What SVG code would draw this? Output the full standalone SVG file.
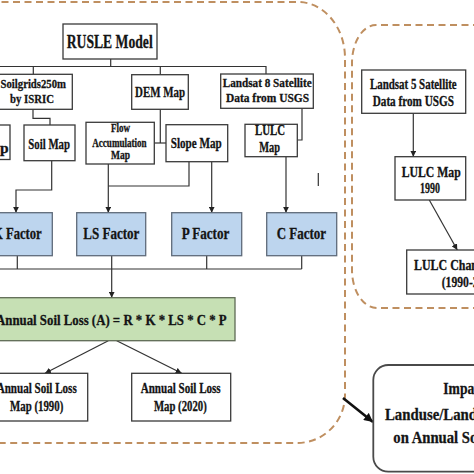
<svg xmlns="http://www.w3.org/2000/svg" width="474" height="474" viewBox="0 0 474 474">
<style>
.bg{fill:#ffffff}
.dash{fill:none;stroke:#bf8f60;stroke-width:2;stroke-dasharray:7 4.5}
.box{fill:#ffffff;stroke:#3a3a3a;stroke-width:1.3}
.fac{fill:#bdd5ee;stroke:#5f6b7a;stroke-width:1.3}
.eq{fill:#c6e0b4;stroke:#5f6b55;stroke-width:1.3}
.imp{fill:#ffffff;stroke:#4a4a4a;stroke-width:1.8}
.c{fill:none;stroke:#333333;stroke-width:1.2}
.ca{fill:none;stroke:#333333;stroke-width:1.2;marker-end:url(#arr)}
.thick{fill:none;stroke:#111111;stroke-width:2.6;marker-end:url(#arrB)}
text{font-family:"Liberation Serif","Times New Roman",serif;font-weight:bold;fill:#141414;stroke:#141414;stroke-width:0.3}
</style>
<defs>
<marker id="arr" viewBox="0 0 10 10" refX="10" refY="5" markerWidth="6" markerHeight="6" markerUnits="userSpaceOnUse" orient="auto">
<path d="M0,0 L10,5 L0,10 z" fill="#222222"/>
</marker>
<marker id="arrB" viewBox="0 0 10 10" refX="10" refY="5" markerWidth="9" markerHeight="9" markerUnits="userSpaceOnUse" orient="auto">
<path d="M0,0 L10,5 L0,10 z" fill="#111111"/>
</marker>
</defs>
<rect class="bg" x="0" y="0" width="474" height="474"/>

<g id="frames">
<path class="dash" d="M-10,2 H298 A47 56 0 0 1 345,58 V395 A48 48 0 0 1 297,443 H-10"/>
<path class="dash" d="M480,25 H376 A24 38 0 0 0 352,63 V270 A25 38 0 0 0 377,308 H480"/>
</g>

<g id="connectors">
<path class="c" d="M110.7,59 V66.5"/>
<path class="c" d="M0,66.5 H266 V74"/>
<path class="c" d="M33.3,66.5 V74.3"/>
<path class="c" d="M160.3,66.5 V74.7"/>
<path class="c" d="M33,109.3 V118.3 H50 V125"/>
<path class="c" d="M160.3,109.3 V143"/>
<path class="c" d="M154.3,143 H166"/>
<path class="c" d="M302,108.3 V140 H297.3"/>
<path class="ca" d="M51.7,160.7 V190 H16 V212.7"/>
<path class="ca" d="M108.3,164 V212.7"/>
<path class="c" d="M189,161.7 V186 H108.3"/>
<path class="ca" d="M211.7,161.7 V212.7"/>
<path class="ca" d="M286,156.7 V212.7"/>
<path class="c" d="M318.3,173 V186"/>
<path class="c" d="M17.3,255.7 V269 M111.7,255.7 V269 M206.7,255.7 V269 M301.7,255.7 V269 M0,269 H301.7"/>
<path class="ca" d="M111.7,269 V297.7"/>
<path class="ca" d="M108.3,340.7 L45,373.3"/>
<path class="ca" d="M116.7,340.7 L181.7,373.3"/>
<path class="ca" d="M413.3,113.3 V156.7"/>
<path class="ca" d="M429.3,200 L457.3,250"/>
<path class="ca" d="M477,315 V365"/>
<path class="thick" d="M343,398 L373,422"/>
</g>

<g id="rusle"><rect class="box" x="63" y="24" width="94" height="35"/>
<text x="66.7" y="48.3" font-size="19" textLength="86" lengthAdjust="spacingAndGlyphs">RUSLE Model</text></g>

<g id="soilgrids"><rect class="box" x="-8" y="74.3" width="80.3" height="35"/>
<text x="0.5" y="87.7" font-size="13.5" textLength="65.5" lengthAdjust="spacingAndGlyphs">Soilgrids250m</text>
<text x="10" y="103.3" font-size="13.5" textLength="44" lengthAdjust="spacingAndGlyphs">by ISRIC</text></g>

<g id="dem"><rect class="box" x="131.7" y="74.7" width="56.6" height="34.6"/>
<text x="135" y="96.7" font-size="15.5" textLength="50" lengthAdjust="spacingAndGlyphs">DEM Map</text></g>

<g id="landsat8"><rect class="box" x="220.7" y="74" width="92.6" height="34.3"/>
<text x="222.7" y="86.7" font-size="13" textLength="89" lengthAdjust="spacingAndGlyphs">Landsat 8 Satellite</text>
<text x="226" y="101.7" font-size="13" textLength="83" lengthAdjust="spacingAndGlyphs">Data from USGS</text></g>

<g id="leftmap"><rect class="box" x="-20" y="125" width="30" height="34.5"/>
<text x="0" y="153" font-size="15.5">p</text></g>

<g id="soilmap"><rect class="box" x="24" y="125" width="51" height="35.7"/>
<text x="28.3" y="149" font-size="15.5" textLength="41.7" lengthAdjust="spacingAndGlyphs">Soil Map</text></g>

<g id="flow"><rect class="box" x="86" y="122.3" width="68.3" height="41.7"/>
<text x="111" y="132.3" font-size="11.5" textLength="19" lengthAdjust="spacingAndGlyphs">Flow</text>
<text x="92.3" y="146.7" font-size="11.5" textLength="54.3" lengthAdjust="spacingAndGlyphs">Accumulation</text>
<text x="111" y="159.3" font-size="11.5" textLength="19" lengthAdjust="spacingAndGlyphs">Map</text></g>

<g id="slope"><rect class="box" x="166" y="124.7" width="61.7" height="37"/>
<text x="170.7" y="148.3" font-size="15.5" textLength="51" lengthAdjust="spacingAndGlyphs">Slope Map</text></g>

<g id="lulc"><rect class="box" x="245" y="124.3" width="52.3" height="32.4"/>
<text x="255" y="135" font-size="14" textLength="30" lengthAdjust="spacingAndGlyphs">LULC</text>
<text x="259.3" y="151.7" font-size="14" textLength="20.7" lengthAdjust="spacingAndGlyphs">Map</text></g>

<g id="kfactor"><rect class="fac" x="-10" y="212.7" width="62.3" height="43"/>
<text x="-7" y="239" font-size="16" textLength="48.7" lengthAdjust="spacingAndGlyphs">K Factor</text></g>

<g id="lsfactor"><rect class="fac" x="76.7" y="212.7" width="69" height="43"/>
<text x="83.3" y="239" font-size="16" textLength="56" lengthAdjust="spacingAndGlyphs">LS Factor</text></g>

<g id="pfactor"><rect class="fac" x="171.7" y="212.7" width="70" height="43"/>
<text x="181.7" y="239" font-size="16" textLength="47.6" lengthAdjust="spacingAndGlyphs">P Factor</text></g>

<g id="cfactor"><rect class="fac" x="266.7" y="212.7" width="70" height="43"/>
<text x="276.7" y="239" font-size="16" textLength="49.3" lengthAdjust="spacingAndGlyphs">C Factor</text></g>

<g id="equation"><rect class="eq" x="-10" y="297.7" width="245" height="43"/>
<text x="-4" y="325" font-size="15" textLength="230.7" lengthAdjust="spacingAndGlyphs">Annual Soil Loss (A) = R * K * LS * C * P</text></g>

<g id="asl1990"><rect class="box" x="-10" y="373.3" width="97.7" height="47.7"/>
<text x="-3.3" y="393.3" font-size="14" textLength="80" lengthAdjust="spacingAndGlyphs">Annual Soil Loss</text>
<text x="10" y="410.7" font-size="14" textLength="53.3" lengthAdjust="spacingAndGlyphs">Map (1990)</text></g>

<g id="asl2020"><rect class="box" x="131.7" y="373.3" width="99" height="47.7"/>
<text x="140.7" y="393.3" font-size="14" textLength="80" lengthAdjust="spacingAndGlyphs">Annual Soil Loss</text>
<text x="154" y="410.7" font-size="14" textLength="52.7" lengthAdjust="spacingAndGlyphs">Map (2020)</text></g>

<g id="landsat5"><rect class="box" x="361.7" y="70" width="104" height="43.3"/>
<text x="370" y="89.3" font-size="14" textLength="86.7" lengthAdjust="spacingAndGlyphs">Landsat 5 Satellite</text>
<text x="372.7" y="106" font-size="14" textLength="81.3" lengthAdjust="spacingAndGlyphs">Data from USGS</text></g>

<g id="lulc1990"><rect class="box" x="395" y="156.7" width="70.7" height="43.3"/>
<text x="401.7" y="177.3" font-size="15" textLength="59" lengthAdjust="spacingAndGlyphs">LULC Map</text>
<text x="420" y="192.7" font-size="15" textLength="20" lengthAdjust="spacingAndGlyphs">1990</text></g>

<g id="lulcchange"><rect class="box" x="406.7" y="250" width="80" height="44"/>
<text x="414" y="270" font-size="15" textLength="64" lengthAdjust="spacingAndGlyphs">LULC Chan</text>
<text x="441.7" y="286.7" font-size="15" textLength="37" lengthAdjust="spacingAndGlyphs">(1990-2</text></g>

<g id="impact"><rect class="imp" x="373.3" y="365" width="120" height="106.7" rx="15" ry="15"/>
<text x="443.3" y="394" font-size="17" textLength="31" lengthAdjust="spacingAndGlyphs">Impa</text>
<text x="385" y="419.5" font-size="17" textLength="92" lengthAdjust="spacingAndGlyphs">Landuse/Land</text>
<text x="393.3" y="443.3" font-size="17" textLength="84" lengthAdjust="spacingAndGlyphs">on Annual So</text></g>
</svg>
